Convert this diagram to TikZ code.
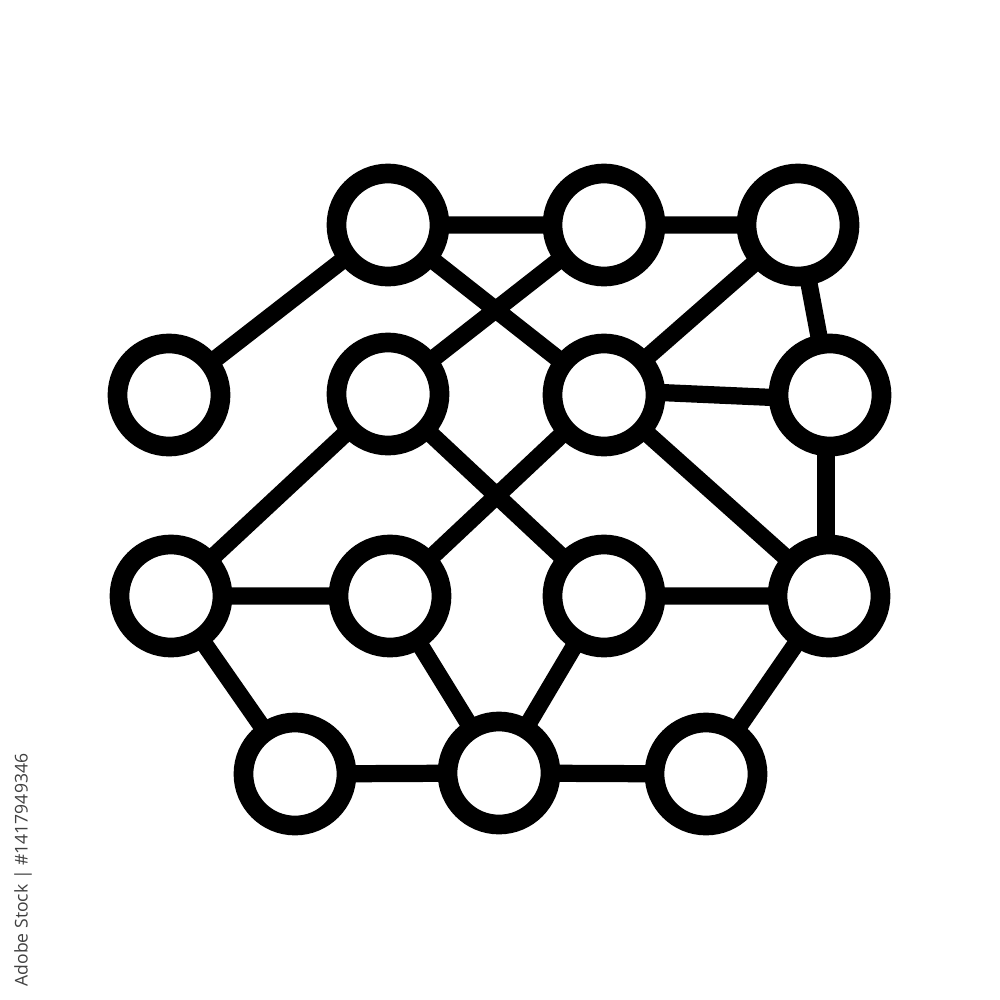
\documentclass[tikz,border=0pt]{standalone}
\usepackage{fontspec}
\usetikzlibrary{calc}
\newfontfamily\wmfont{Open Sans}
\begin{document}
\begin{tikzpicture}[x=0.01cm,y=-0.01cm,
  nd/.style={circle,draw=black,fill=white,line width=5.6pt,minimum size=1.03cm,inner sep=0pt},
  ed/.style={draw=black,line width=4.9pt}]
\useasboundingbox (0,0) rectangle (1000,1000);
\fill[white] (0,0) rectangle (1000,1000);
% node positions
\coordinate (pA) at (388,225);
\coordinate (pB) at (604,225);
\coordinate (pC) at (798,225);
\coordinate (pD) at (169,395);
\coordinate (pE) at (388,394);
\coordinate (pF) at (604,395);
\coordinate (pG) at (830,395);
\coordinate (pH) at (171,596);
\coordinate (pI) at (390,596);
\coordinate (pJ) at (604,596);
\coordinate (pK) at (829,596);
\coordinate (pL) at (295,774);
\coordinate (pM) at (499,773);
\coordinate (pN) at (706,774);
% connectors
\path[ed] (pA)--(pB) (pB)--(pC) (pA)--(pD) (pA)--(pF) (pB)--(pE)
  (pC)--(pF) (pC)--(pG) (pE)--(pH) (pE)--(pJ)
  (pF)--(pI) (pF)--(pK) (pH)--(pI) (pH)--(pL) (pI)--(pM) (pJ)--(pM)
  (pJ)--(pK) (pL)--(pM) (pM)--(pN) (pN)--(pK);
\path[ed] ($(pF)+(0,-5)$)--($(pG)+(0,5)$);
\path[ed] ($(pG)+(-4,0)$)--($(pK)+(-3,0)$);
% nodes
\foreach \n in {A,B,C,D,E,F,G,H,I,J,K,L,M,N}{\node[nd] (\n) at (p\n) {};}
% watermark text
\node[rotate=90,anchor=west,text=black!75,inner sep=0pt,font=\wmfont\fontsize{5pt}{6pt}\selectfont] (wm) at (23,987) {Adobe Stock | \#1417949346};
\end{tikzpicture}
\end{document}
